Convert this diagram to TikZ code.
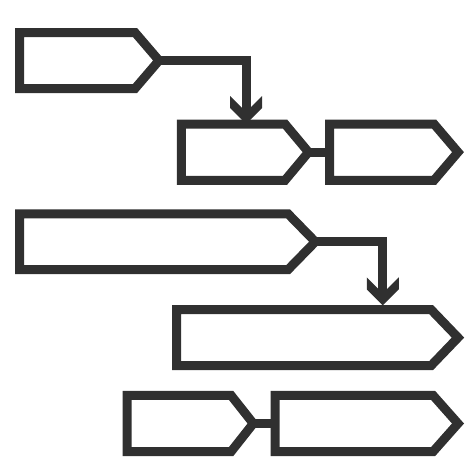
\documentclass[tikz,border=0pt]{standalone}
\definecolor{ink}{RGB}{48,48,48}
\tikzset{
  boxline/.style={draw=ink, line width=9pt, line join=miter, miter limit=10},
  conn/.style={draw=ink, line width=9pt, line join=miter},
  head/.style={fill=ink, draw=none}
}
\newcommand{\chevbox}[6]{%
  \draw[boxline] (#2,#3) -- (#5,#3) -- (#6,{(#3+#4)/2}) -- (#5,#4) -- (#2,#4) -- cycle;
  \coordinate (#1-tip) at (#6,{(#3+#4)/2});
  \coordinate (#1-left) at (#2,{(#3+#4)/2});
}
\begin{document}
\begin{tikzpicture}[x=1pt,y=-1pt]
\useasboundingbox (0,0) rectangle (474,474);
% boxes: name, left, top, bottom, corner, tip
\chevbox{b1}{19.5}{32.5}{88.5}{135}{159}
\chevbox{b2}{181.3}{124}{180.3}{285}{308.5}
\chevbox{b3}{329.7}{124}{180.3}{434}{458}
\chevbox{b4}{19.5}{213.8}{269.7}{288}{315.3}
\chevbox{b5}{176.7}{309.5}{365.7}{431}{458}
\chevbox{b6}{127.2}{395.3}{451.7}{231}{253.3}
\chevbox{b7}{275}{395.3}{451.7}{433}{458}
% connector 1
\coordinate (a1) at (246,110);
\draw[conn] (b1-tip) -| (a1);
\fill[head] (230,96) -- (241.5,107.5) -- (250.5,107.5) -- (262,96) -- (262,108) -- (246,124) -- (230,108) -- cycle;
% connector b2-b3
\draw[conn] (b2-tip) -- (b3-left);
% connector 2
\coordinate (a2) at (382.8,291);
\draw[conn] (b4-tip) -| (a2);
\fill[head] (366.8,277.3) -- (378.3,288.8) -- (387.3,288.8) -- (398.8,277.3) -- (398.8,289.3) -- (382.8,305.3) -- (366.8,289.3) -- cycle;
% connector b6-b7
\draw[conn] (b6-tip) -- (b7-left);
\end{tikzpicture}
\end{document}
